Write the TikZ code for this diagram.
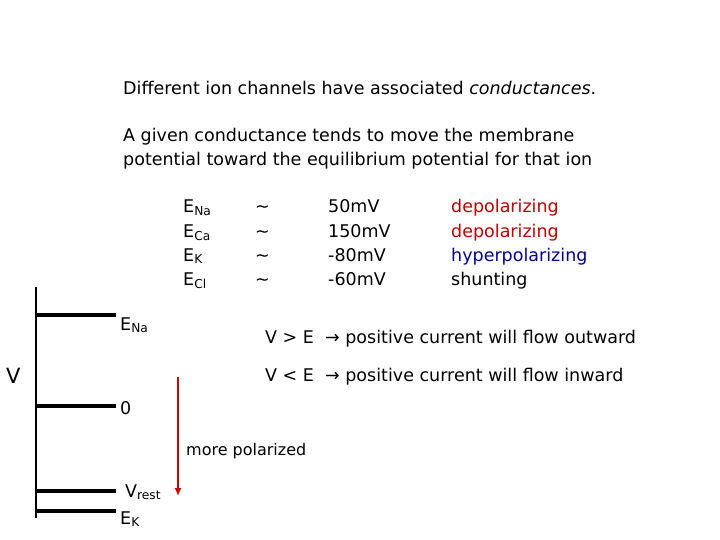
\documentclass[tikz,border=0pt]{standalone}
\usepackage{fontspec}
\usetikzlibrary{arrows.meta}
\setmainfont{DejaVu Sans}
\begin{document}
\begin{tikzpicture}[x=1pt,y=-1pt,
  txt/.style={anchor=base west,inner sep=0,font=\fontsize{17.5}{20}\selectfont},
  lvl/.style={line width=3.5pt}]
\useasboundingbox (0,0) rectangle (720,540);
\node[txt] (t1) at (123,95) {Different ion channels have associated \emph{conductances}.};
\node[txt] (t2) at (123,142) {A given conductance tends to move the membrane};
\node[txt] (t3) at (123,166) {potential toward the equilibrium potential for that ion};
\foreach \n/\s/\y/\v/\c/\w in {a/Na/213/50mV/red!75!black/depolarizing, b/Ca/237/150mV/red!75!black/depolarizing, c/K/261/-80mV/blue!60!black/hyperpolarizing, d/Cl/285/-60mV/black/shunting}{
  \node[txt] (e\n) at (183,\y) {E\textsubscript{\s}};
  \node[txt] (s\n) at (255,\y) {\textasciitilde};
  \node[txt] (v\n) at (328,\y) {\v};
  \node[txt,text=\c] (w\n) at (451,\y) {\w};
}
\coordinate (vt) at (36,287); \coordinate (vb) at (36,518);
\draw[line width=1.6pt] (vt) -- (vb);
\node[txt,font=\fontsize{21}{24}\selectfont] (V) at (6,383) {V};
\coordinate (l1) at (116,315); \coordinate (l2) at (116,406);
\coordinate (l3) at (116,491); \coordinate (l4) at (116,511);
\foreach \c in {l1,l2,l3,l4}{ \draw[lvl] (\c) -- (vt |- \c); }
\node[txt] (ena) at (120,330) {E\textsubscript{Na}};
\node[txt] (zero) at (120,414) {0};
\node[txt] (vr) at (125,497) {V\textsubscript{rest}};
\node[txt] (ek) at (120,524) {E\textsubscript{K}};
\coordinate (at) at (178,377); \coordinate (ab) at (178,496);
\draw[red!80!black,line width=1.8pt,-{Latex[length=8pt,width=7pt]}] (at) -- (ab);
\node[txt,font=\fontsize{16}{18}\selectfont] (mp) at (186,455) {more polarized};
\node[txt] (g1) at (265,343) {V > E \ \textrightarrow{} positive current will flow outward};
\node[txt] (g2) at (265,381) {V < E \ \textrightarrow{} positive current will flow inward};
\end{tikzpicture}
\end{document}
